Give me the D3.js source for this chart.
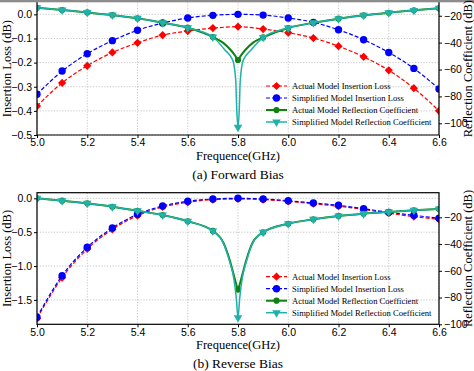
<!DOCTYPE html>
<html>
<head>
<meta charset="utf-8">
<script src="https://cdn.jsdelivr.net/npm/d3@7"></script>
<style>
  body { margin: 0; background: #fff; }
  svg { display: block; font-family: "Liberation Serif", "Times New Roman", serif; }
  .grid line { stroke: #b8b8b8; stroke-dasharray: 1.2,1.6; stroke-width: 0.8; }
  .axis path, .axis line { stroke: #000; }
  .axis text { font-size: 10.5px; fill: #000; }
</style>
</head>
<body>
<div id="chart"></div>
<script>
// frequency points (GHz), one marker per point
const freq = [5.0, 5.1, 5.2, 5.3, 5.4, 5.5, 5.6, 5.7, 5.8, 5.9, 6.0, 6.1, 6.2, 6.3, 6.4, 6.5, 6.6];

// (a) forward bias
const fwdActualIL = [-0.380, -0.284, -0.213, -0.158, -0.118, -0.086, -0.069, -0.057, -0.051, -0.061, -0.076, -0.098, -0.132, -0.176, -0.232, -0.306, -0.400];
const fwdSimpIL = [-0.331, -0.235, -0.163, -0.109, -0.066, -0.036, -0.015, -0.004, 0.000, -0.003, -0.015, -0.033, -0.064, -0.105, -0.158, -0.224, -0.309];
const fwdActualRC = [-14.1, -15.8, -17.5, -19.5, -21.9, -25.2, -28.9, -35.8, -52.9, -36.1, -29.1, -25.2, -22.2, -19.7, -17.8, -16.0, -14.5];
const fwdSimpRC = [-14.1, -15.8, -17.5, -19.5, -21.9, -25.2, -28.9, -35.8, -103.0, -36.1, -29.1, -25.2, -22.2, -19.7, -17.8, -16.0, -14.5];
// extra curve points near the resonance (line only, no marker)
const fwdActualRCDip = [[5.74, -40], [5.771, -45.5], [5.79, -50], [5.81, -50], [5.829, -45.5], [5.86, -40]];
const fwdSimpRCDip = [[5.748, -45.5], [5.779, -53], [5.791, -68], [5.795, -90], [5.805, -90], [5.809, -68], [5.821, -53], [5.852, -45.5]];

// (b) reverse bias
const revActualIL = [-1.775, -1.171, -0.748, -0.458, -0.256, -0.128, -0.059, -0.020, -0.010, -0.020, -0.045, -0.080, -0.117, -0.165, -0.220, -0.270, -0.310];
const revSimpIL = [-1.755, -1.142, -0.723, -0.438, -0.236, -0.114, -0.044, -0.010, 0.000, -0.010, -0.035, -0.069, -0.103, -0.153, -0.207, -0.251, -0.295];
const revActualRC = [-5.8, -7.6, -9.5, -12.1, -15.1, -18.3, -23.0, -30.2, -74.0, -31.2, -24.8, -21.5, -19.0, -17.3, -16.0, -14.8, -13.8];
const revSimpRC = [-5.8, -7.6, -9.5, -12.1, -15.1, -18.3, -23.0, -30.2, -95.0, -31.2, -24.8, -21.5, -19.0, -17.3, -16.0, -14.8, -13.8];
const revActualRCDip = [[5.742, -39], [5.767, -52], [5.783, -63], [5.793, -70], [5.807, -70], [5.817, -63], [5.833, -52], [5.858, -39]];
const revSimpRCDip = [[5.742, -39.4], [5.767, -53.2], [5.783, -65.4], [5.793, -80], [5.807, -80], [5.817, -65.4], [5.833, -53.2], [5.858, -39.4]];

const xTicks = [5.0, 5.2, 5.4, 5.6, 5.8, 6.0, 6.2, 6.4, 6.6];
const legendNames = ['Actual Model Insertion Loss', 'Simplified Model Insertion Loss',
  'Actual Model Reflection Coefficient', 'Simplified Model Reflection Coefficient'];

const width = 474, height = 371;
const svg = d3.select('#chart').append('svg')
  .attr('width', width)
  .attr('height', height);

// cropped frame edge at the very top of the picture
svg.append('rect').attr('x', 0).attr('y', 0).attr('width', width).attr('height', 2.3).attr('fill', '#8c8c8c');

const styles = [
  { color: '#ff0000', width: 1.2, dash: '4,2', symbol: 'diamond' },
  { color: '#0000ff', width: 1.2, dash: '4,2', symbol: 'circle' },
  { color: '#108010', width: 2, dash: null, symbol: 'dot' },
  { color: '#20b2aa', width: 1.5, dash: null, symbol: 'triangle' }
];

function marker(sel, kind, color) {
  if (kind === 'diamond') {
    sel.append('path').attr('d', d3.symbol(d3.symbolSquare, 34)()).attr('transform', 'rotate(45)').attr('fill', color);
  } else if (kind === 'circle') {
    sel.append('circle').attr('r', 3.7).attr('fill', color);
  } else if (kind === 'dot') {
    sel.append('circle').attr('r', 3.1).attr('fill', color);
  } else {
    sel.append('path').attr('d', d3.symbol(d3.symbolTriangle, 32)()).attr('transform', 'rotate(180)').attr('fill', color);
  }
}

function drawPanel(cfg) {
  const g = svg.append('g');
  const x = d3.scaleLinear().domain([5.0, 6.6]).range([37, 439]);
  const yL = d3.scaleLinear().domain(cfg.leftDomain).range([cfg.bottom, cfg.top]);
  const yR = d3.scaleLinear().domain(cfg.rightDomain).range([cfg.bottom, cfg.top]);

  // grid
  const grid = g.append('g').attr('class', 'grid');
  grid.selectAll('.gx').data(xTicks).enter().append('line')
    .attr('x1', d => x(d)).attr('x2', d => x(d))
    .attr('y1', cfg.top).attr('y2', cfg.bottom);
  grid.selectAll('.gy').data(cfg.leftTicks).enter().append('line')
    .attr('x1', 37).attr('x2', 439)
    .attr('y1', d => yL(d)).attr('y2', d => yL(d));

  const clip = 'clip' + cfg.id;
  g.append('clipPath').attr('id', clip).append('rect')
    .attr('x', 37).attr('y', cfg.top - 6).attr('width', 402).attr('height', cfg.bottom - cfg.top + 12);

  const series = [
    { vals: cfg.actualIL, dip: [], y: yL },
    { vals: cfg.simpIL, dip: [], y: yL },
    { vals: cfg.actualRC, dip: cfg.actualDip, y: yR },
    { vals: cfg.simpRC, dip: cfg.simpDip, y: yR }
  ];

  const plot = g.append('g').attr('clip-path', 'url(#' + clip + ')');
  series.forEach((s, i) => {
    const st = styles[i];
    const pts = freq.map((f, j) => [f, s.vals[j]]).concat(s.dip).sort((a, b) => a[0] - b[0]);
    const line = d3.line().x(d => x(d[0])).y(d => s.y(d[1])).curve(d3.curveMonotoneX);
    plot.append('path')
      .datum(pts)
      .attr('d', line)
      .attr('fill', 'none')
      .attr('stroke', st.color)
      .attr('stroke-width', st.width)
      .attr('stroke-dasharray', st.dash);
    plot.selectAll('.m' + i).data(freq).enter().append('g')
      .attr('transform', (f, j) => 'translate(' + x(f) + ',' + s.y(s.vals[j]) + ')')
      .each(function () { marker(d3.select(this), st.symbol, st.color); });
  });

  // frame
  if (cfg.topEdge) {
    g.append('path').attr('d', 'M37,' + cfg.top + 'V' + cfg.bottom + 'H439V' + cfg.top)
      .attr('fill', 'none').attr('stroke', '#000').attr('stroke-width', 1.2);
  } else {
    g.append('rect')
      .attr('x', 37).attr('y', cfg.top).attr('width', 402).attr('height', cfg.bottom - cfg.top)
      .attr('fill', 'none').attr('stroke', '#000').attr('stroke-width', 1.2);
  }

  // axes
  g.append('g').attr('class', 'axis')
    .attr('transform', 'translate(0,' + cfg.bottom + ')')
    .call(d3.axisBottom(x).tickValues(xTicks).tickFormat(d3.format('.1f')).tickSize(3).tickPadding(1))
    .call(a => a.select('.domain').remove());
  g.append('g').attr('class', 'axis')
    .attr('transform', 'translate(37,0)')
    .call(d3.axisLeft(yL).tickValues(cfg.leftTicks).tickFormat(d3.format('.1f')).tickSize(3).tickPadding(2))
    .call(a => a.select('.domain').remove());
  g.append('g').attr('class', 'axis')
    .attr('transform', 'translate(439,0)')
    .call(d3.axisRight(yR).tickValues([-20, -40, -60, -80, -100]).tickSize(3).tickPadding(2))
    .call(a => a.select('.domain').remove());

  const mid = (cfg.top + cfg.bottom) / 2;
  g.append('text')
    .attr('transform', 'translate(11,' + mid + ') rotate(-90)')
    .attr('text-anchor', 'middle').attr('font-size', 12.5)
    .text('Insertion Loss (dB)');
  g.append('text')
    .attr('transform', 'translate(472,' + mid + ') rotate(-90)')
    .attr('text-anchor', 'middle').attr('font-size', 12.5)
    .text('Reflection Coefficient (dB)');
  g.append('text')
    .attr('x', 238).attr('y', cfg.bottom + 25)
    .attr('text-anchor', 'middle').attr('font-size', 12.5)
    .text('Frequence(GHz)');
  g.append('text')
    .attr('x', 238).attr('y', cfg.bottom + 43.5)
    .attr('text-anchor', 'middle').attr('font-size', 13.5)
    .text(cfg.caption);

  // legend
  const leg = g.append('g').attr('transform', 'translate(266,' + cfg.legendY + ')');
  legendNames.forEach((name, i) => {
    const st = styles[i];
    const row = leg.append('g').attr('transform', 'translate(0,' + i * 12 + ')');
    row.append('line').attr('x1', 0).attr('x2', 21)
      .attr('stroke', st.color).attr('stroke-width', st.width).attr('stroke-dasharray', st.dash);
    const m = row.append('g').attr('transform', 'translate(10.5,0)');
    marker(m, st.symbol, st.color);
    row.append('text').attr('x', 26).attr('y', 3).attr('font-size', 8.6).text(name);
  });
}

drawPanel({
  id: 'a', top: 2.3, bottom: 135, topEdge: true,
  leftDomain: [-0.5, 0.05], leftTicks: [0.0, -0.1, -0.2, -0.3, -0.4, -0.5],
  rightDomain: [-108.7, -10],
  actualIL: fwdActualIL, simpIL: fwdSimpIL, actualRC: fwdActualRC, simpRC: fwdSimpRC,
  actualDip: fwdActualRCDip, simpDip: fwdSimpRCDip,
  legendY: 86, caption: '(a) Forward Bias'
});

drawPanel({
  id: 'b', top: 192.7, bottom: 324.3, topEdge: false,
  leftDomain: [-1.86, 0.083], leftTicks: [0.0, -0.5, -1.0, -1.5],
  rightDomain: [-100, -1.6],
  actualIL: revActualIL, simpIL: revSimpIL, actualRC: revActualRC, simpRC: revSimpRC,
  actualDip: revActualRCDip, simpDip: revSimpRCDip,
  legendY: 276.7, caption: '(b) Reverse Bias'
});
</script>
</body>
</html>
